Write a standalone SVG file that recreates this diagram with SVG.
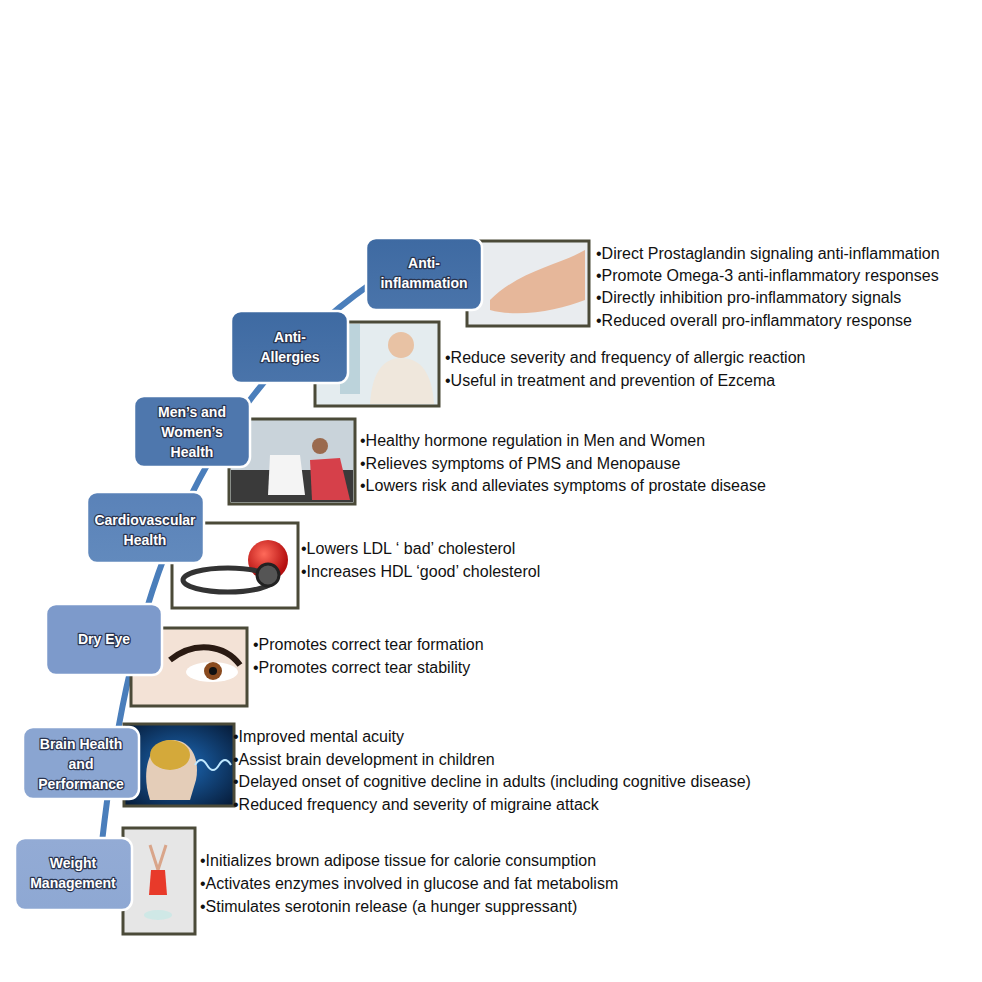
<svg xmlns="http://www.w3.org/2000/svg" width="982" height="982" viewBox="0 0 982 982">
<defs>
<linearGradient id="g1" x1="0" y1="0" x2="0" y2="1"><stop offset="0" stop-color="#3e6aa2"/><stop offset="1" stop-color="#4a74aa"/></linearGradient>
<linearGradient id="g4" x1="0" y1="0" x2="0" y2="1"><stop offset="0" stop-color="#5a82b8"/><stop offset="1" stop-color="#628abd"/></linearGradient>
<linearGradient id="g7" x1="0" y1="0" x2="0" y2="1"><stop offset="0" stop-color="#93abd5"/><stop offset="1" stop-color="#8ea8d3"/></linearGradient>
<radialGradient id="heart" cx="0.4" cy="0.35" r="0.6"><stop offset="0" stop-color="#ff6a5a"/><stop offset="1" stop-color="#b50f0f"/></radialGradient>
<radialGradient id="brainbg" cx="0.5" cy="0.5" r="0.7"><stop offset="0" stop-color="#1d6ab8"/><stop offset="1" stop-color="#061a36"/></radialGradient>
</defs>
<style>
.box{stroke:#fff;stroke-width:2.5}
.lbl{font-family:"Liberation Sans",Arial,sans-serif;font-weight:bold;font-size:14px;fill:#fff;stroke:#2a3550;stroke-width:2.5px;paint-order:stroke;stroke-linejoin:round;text-anchor:middle}
.pic{stroke:#4b4a38;stroke-width:3}
.t{font-family:"Liberation Sans",Arial,sans-serif;font-size:16px;fill:#111}
</style>
<rect width="982" height="982" fill="#fff"/>
<g id="connectors">
<path d="M102,842 C125,640 175,420 372,283" fill="none" stroke="#4a7ebb" stroke-width="6"/>
</g>
<g id="photos">
<g id="p1"><rect class="pic" x="467" y="241" width="122" height="85" fill="#e9ecef"/><path d="M490,300 C520,270 560,265 585,250 L585,300 C560,310 520,318 490,310Z" fill="#e6b79a"/></g>
<g id="p2"><rect class="pic" x="315" y="322" width="124" height="84" fill="#e4ecef"/><rect x="340" y="324" width="20" height="70" fill="#bcd3db"/><circle cx="401" cy="345" r="13" fill="#e8c2a4"/><path d="M370,404 C372,370 385,358 401,358 C420,358 432,372 434,404Z" fill="#efe7dc"/></g>
<g id="p3"><rect class="pic" x="229" y="419" width="126" height="85" fill="#c9d3da"/><rect x="231" y="470" width="122" height="32" fill="#3a3a3a"/><circle cx="320" cy="446" r="8" fill="#9a6a4e"/><path d="M310,460 L340,458 L350,500 L312,500Z" fill="#d6404a"/><path d="M270,455 L300,455 L305,495 L268,495Z" fill="#f4f4f4"/></g>
<g id="p4"><rect class="pic" x="172" y="523" width="126" height="85" fill="#fff"/><circle cx="268" cy="560" r="20" fill="url(#heart)"/><ellipse cx="228" cy="580" rx="45" ry="12" fill="none" stroke="#333" stroke-width="5"/><circle cx="268" cy="575" r="11" fill="#555" stroke="#222" stroke-width="3"/></g>
<g id="p5"><rect class="pic" x="131" y="628" width="116" height="78" fill="#f3e2d6"/><path d="M170,660 C195,640 225,645 240,665" fill="none" stroke="#2a1a12" stroke-width="6"/><ellipse cx="212" cy="672" rx="26" ry="10" fill="#fff"/><circle cx="213" cy="671" r="9" fill="#8a4b1f"/><circle cx="213" cy="671" r="4" fill="#111"/></g>
<g id="p6"><rect class="pic" x="124" y="724" width="110" height="82" fill="url(#brainbg)"/><path d="M150,800 C140,770 150,740 172,740 C192,740 200,760 196,780 L190,800Z" fill="#e4cdb8"/><ellipse cx="170" cy="755" rx="20" ry="15" fill="#d4a93a"/><path d="M195,765 q6,-10 12,0 t12,0 t12,0" fill="none" stroke="#bfe8ff" stroke-width="2"/></g>
<g id="p7"><rect class="pic" x="123" y="828" width="72" height="106" fill="#e6e6e6"/><path d="M150,845 L158,870 L166,845" fill="none" stroke="#d9a58a" stroke-width="3"/><path d="M151,870 L165,870 L167,895 L149,895Z" fill="#e83a2a"/><ellipse cx="158" cy="915" rx="14" ry="5" fill="#cfe8e6"/></g>
</g>
<g id="n1"><rect class="box" x="366" y="238" width="116" height="72" rx="10" fill="url(#g1)"/><text class="lbl" x="424" y="268">Anti-</text><text class="lbl" x="424" y="288">inflammation</text></g>
<g id="n2"><rect class="box" x="231" y="311" width="117" height="72" rx="10" fill="url(#g1)"/><text class="lbl" x="290" y="342">Anti-</text><text class="lbl" x="290" y="362">Allergies</text></g>
<g id="n3"><rect class="box" x="134" y="396" width="116" height="71" rx="10" fill="#4e77ad"/><text class="lbl" x="192" y="417">Men’s and</text><text class="lbl" x="192" y="437">Women’s</text><text class="lbl" x="192" y="457">Health</text></g>
<g id="n4"><rect class="box" x="87" y="492" width="117" height="71" rx="10" fill="url(#g4)"/><text class="lbl" x="145" y="525">Cardiovascular</text><text class="lbl" x="145" y="545">Health</text></g>
<g id="n5"><rect class="box" x="46" y="604" width="116" height="71" rx="10" fill="#7d9acb"/><text class="lbl" x="104" y="644">Dry Eye</text></g>
<g id="n6"><rect class="box" x="23" y="727" width="116" height="72" rx="10" fill="#8aa5d1"/><text class="lbl" x="81" y="749">Brain Health</text><text class="lbl" x="81" y="769">and</text><text class="lbl" x="81" y="789">Performance</text></g>
<g id="n7"><rect class="box" x="15" y="838" width="117" height="72" rx="10" fill="url(#g7)"/><text class="lbl" x="73" y="868">Weight</text><text class="lbl" x="73" y="888">Management</text></g>
<g id="texts">
<text class="t" x="596" y="259">•Direct Prostaglandin signaling anti-inflammation</text>
<text class="t" x="596" y="281">•Promote Omega-3 anti-inflammatory responses</text>
<text class="t" x="596" y="303">•Directly inhibition pro-inflammatory signals</text>
<text class="t" x="596" y="326">•Reduced overall pro-inflammatory response</text>
<text class="t" x="445" y="363">•Reduce severity and frequency of allergic reaction</text>
<text class="t" x="445" y="386">•Useful in treatment and prevention of Ezcema</text>
<text class="t" x="360" y="446">•Healthy hormone regulation in Men and Women</text>
<text class="t" x="360" y="469">•Relieves symptoms of PMS and Menopause</text>
<text class="t" x="360" y="491">•Lowers risk and alleviates  symptoms of prostate disease</text>
<text class="t" x="301" y="554">•Lowers LDL ‘ bad’ cholesterol</text>
<text class="t" x="301" y="577">•Increases HDL ‘good’ cholesterol</text>
<text class="t" x="253" y="650">•Promotes correct tear formation</text>
<text class="t" x="253" y="673">•Promotes correct tear stability</text>
<text class="t" x="233" y="742">•Improved mental acuity</text>
<text class="t" x="233" y="765">•Assist brain development in children</text>
<text class="t" x="233" y="787">•Delayed onset of cognitive decline in adults (including cognitive disease)</text>
<text class="t" x="233" y="810">•Reduced frequency and severity of migraine attack</text>
<text class="t" x="200" y="866">•Initializes brown adipose tissue for calorie consumption</text>
<text class="t" x="200" y="889">•Activates enzymes involved in glucose and fat metabolism</text>
<text class="t" x="200" y="912">•Stimulates serotonin release (a hunger suppressant)</text>
</g>
</svg>
